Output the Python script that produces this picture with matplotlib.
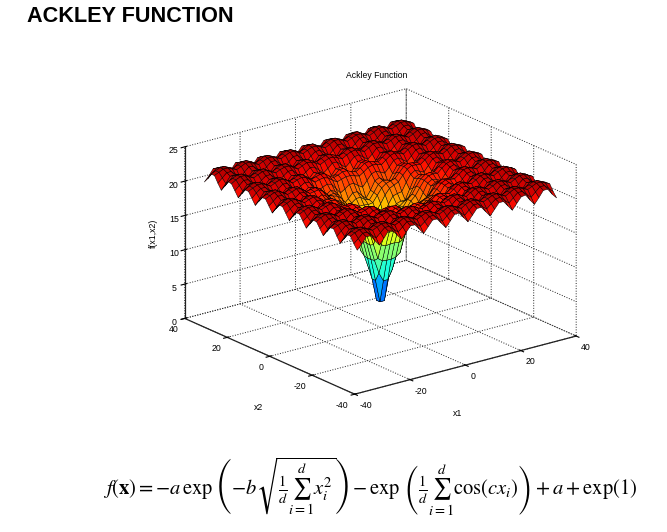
import numpy as np
import matplotlib
matplotlib.use('Agg')
import matplotlib.pyplot as plt

# surface heights on the quadrant x1, x2 > 0, lower triangle (it is symmetric)
z_rows = [
    [3.9],
    [7.2, 8.5],
    [10.4, 10.5, 11.0],
    [13.0, 12.9, 13.2, 14.8],
    [15.1, 15.1, 15.4, 16.4, 17.5],
    [16.5, 16.4, 16.5, 17.4, 18.3, 18.8],
    [17.4, 16.9, 16.7, 17.6, 18.6, 19.0, 18.9],
    [18.0, 17.3, 16.7, 17.7, 18.9, 19.2, 18.7, 18.2],
    [19.0, 18.5, 18.1, 18.9, 19.7, 19.9, 19.6, 19.3, 20.0],
    [19.9, 19.7, 19.5, 19.9, 20.4, 20.6, 20.5, 20.3, 20.8, 21.3],
    [20.4, 20.1, 19.9, 20.3, 20.8, 20.9, 20.7, 20.5, 21.0, 21.5, 21.6],
    [20.5, 19.9, 19.4, 20.0, 20.7, 20.8, 20.3, 19.9, 20.6, 21.3, 21.3, 20.8],
    [20.4, 19.6, 18.9, 19.7, 20.6, 20.7, 20.0, 19.3, 20.1, 21.0, 21.1, 20.4, 19.6],
    [21.0, 20.4, 19.9, 20.5, 21.1, 21.2, 20.7, 20.2, 20.8, 21.5, 21.5, 21.0, 20.5, 21.1],
    [21.5, 21.2, 20.9, 21.3, 21.6, 21.7, 21.4, 21.1, 21.5, 21.9, 21.9, 21.7, 21.4, 21.7, 22.1],
    [21.7, 21.4, 21.1, 21.4, 21.8, 21.8, 21.5, 21.2, 21.6, 22.0, 22.0, 21.7, 21.4, 21.7, 22.1, 22.1],
    [21.5, 20.9, 20.3, 20.9, 21.5, 21.6, 21.0, 20.5, 21.1, 21.7, 21.7, 21.1, 20.6, 21.2, 21.8, 21.8, 21.3],
    [21.2, 20.4, 19.6, 20.4, 21.3, 21.3, 20.5, 19.7, 20.6, 21.4, 21.4, 20.6, 19.9, 20.7, 21.5, 21.5, 20.7, 19.9],
    [21.6, 21.1, 20.5, 21.1, 21.7, 21.7, 21.1, 20.6, 21.2, 21.8, 21.8, 21.2, 20.7, 21.2, 21.8, 21.9, 21.3, 20.7, 21.3],
    [22.0, 21.7, 21.4, 21.7, 22.1, 22.1, 21.8, 21.5, 21.8, 22.1, 22.1, 21.8, 21.5, 21.8, 22.2, 22.2, 21.9, 21.6, 21.9, 22.2],
    [22.1, 21.7, 21.4, 21.8, 22.1, 22.1, 21.8, 21.5, 21.8, 22.1, 22.2, 21.8, 21.5, 21.9, 22.2, 22.2, 21.9, 21.6, 21.9, 22.2, 22.2],
    [21.8, 21.2, 20.6, 21.2, 21.8, 21.8, 21.2, 20.7, 21.3, 21.8, 21.9, 21.3, 20.7, 21.3, 21.9, 21.9, 21.3, 20.7, 21.3, 21.9, 21.9, 21.3],
    [21.5, 20.7, 19.9, 20.7, 21.5, 21.5, 20.7, 19.9, 20.7, 21.5, 21.5, 20.7, 19.9, 20.7, 21.5, 21.6, 20.7, 19.9, 20.7, 21.6, 21.6, 20.7, 20.0],
]
x_ticks = [-40, -20, 0, 20, 40]
y_ticks = [-40, -20, 0, 20, 40]
z_ticks = [0, 5, 10, 15, 20, 25]


def build_surface(rows):
    n = len(rows)
    quad = np.zeros((n, n))
    for i, row in enumerate(rows):
        for j, val in enumerate(row):
            quad[i, j] = val
            quad[j, i] = val
    half = np.hstack([quad[:, ::-1], quad])
    return np.vstack([half[::-1], half])


Z = build_surface(z_rows)
x = np.linspace(-36, 36, Z.shape[0])
X, Y = np.meshgrid(x, x)

plt.rcParams['font.family'] = ['Liberation Sans', 'DejaVu Sans']
plt.rcParams['axes.unicode_minus'] = False
plt.rcParams['mathtext.fontset'] = 'stix'

fig = plt.figure(figsize=(6.67, 5.32), dpi=100)
ax = fig.add_axes([0.0607, 0.084, 1.0, 0.9], projection='3d')
ax.set_proj_type('ortho')
ax.view_init(elev=20, azim=-127.5)
ax.set_box_aspect((1, 1, 0.654), zoom=0.882)

ax.plot_surface(X, Y, Z, rstride=1, cstride=1, cmap='jet', vmin=0, vmax=23,
                edgecolor='black', linewidth=0.35, antialiased=True, shade=False)

ax.set_xlim(-40, 40)
ax.set_ylim(-40, 40)
ax.set_zlim(0, 25)
ax.set_xticks(x_ticks)
ax.set_yticks(y_ticks)
ax.set_zticks(z_ticks)
ax.tick_params(axis='x', labelsize=6.3, pad=-3)
ax.tick_params(axis='y', labelsize=6.3, pad=-3)
ax.tick_params(axis='z', labelsize=6.3, pad=-3)
for label in ax.get_xticklabels():
    label.set_ha('left')
for label in ax.get_yticklabels():
    label.set_ha('right')

for axis in [ax.xaxis, ax.yaxis, ax.zaxis]:
    axis.set_pane_color((1, 1, 1, 0))
    axis.pane.set_edgecolor('#222222')
    axis.pane.set_linestyle(':')
    axis.pane.set_linewidth(0.7)
    axis.line.set_color('#222222')
    axis.line.set_linewidth(0.9)
    axis._axinfo['grid'].update(color='#222222', linestyle=':', linewidth=0.7)

fig.text(458 / 667, 1 - 413 / 532, 'x1', fontsize=6.3, ha='center', va='center')
fig.text(259 / 667, 1 - 407 / 532, 'x2', fontsize=6.3, ha='center', va='center')
fig.text(153 / 667, 1 - 233 / 532, 'f(x1,x2)', fontsize=6.3, rotation=90, ha='center', va='center')
fig.text(377 / 667, 1 - 76 / 532, 'Ackley Function', fontsize=6.2, ha='center', va='center')
fig.text(27 / 667, 1 - 17 / 532, 'ACKLEY FUNCTION', fontsize=15.6, fontweight='bold',
         ha='left', va='center')

formula = (r'$f(\mathbf{x}) = -a\,\exp\,\left(-b\sqrt{\frac{1}{d}\sum_{i=1}^{d}x_i^2}\right)'
           r' - \exp\,\left(\frac{1}{d}\sum_{i=1}^{d}\cos(cx_i)\right) + a + \exp(1)$')
fig.text(370 / 667, 1 - 487 / 532, formula, fontsize=14.8, ha='center', va='center', color='black')

fig.savefig('out.png', dpi=100)
